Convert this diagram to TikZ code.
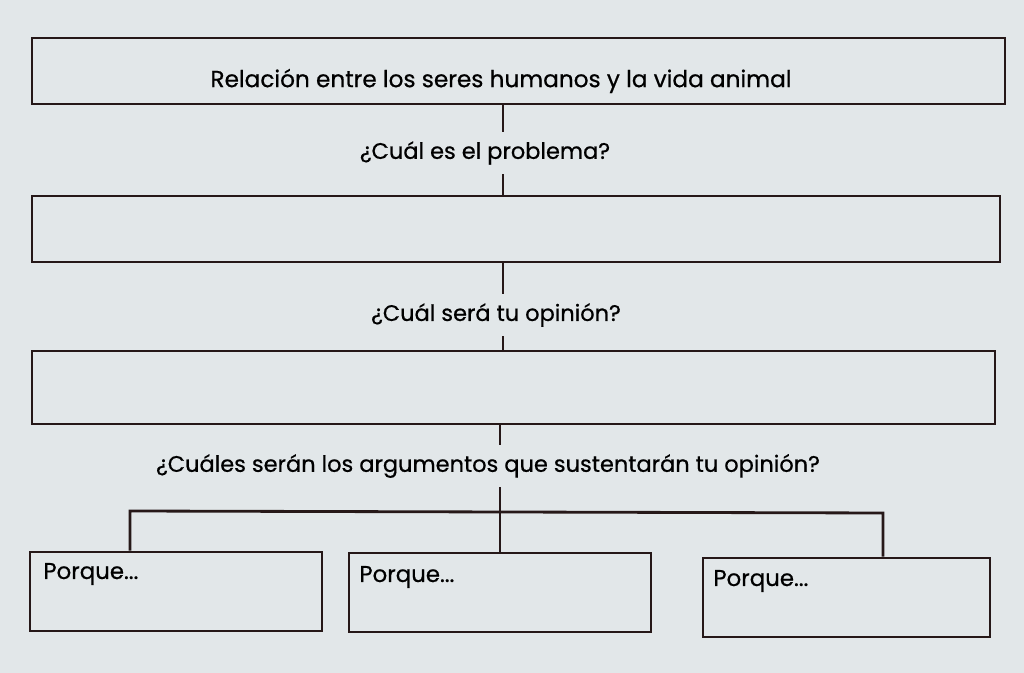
\documentclass[tikz,border=0pt]{standalone}
\usepackage{fontspec}
\setmainfont{Poppins}[FakeBold=0.6]
\usepackage{tikz}
\usetikzlibrary{positioning}

\definecolor{paper}{RGB}{226,231,233}
\definecolor{ink}{RGB}{38,24,24}

\begin{document}
\begin{tikzpicture}[
  font=\fontsize{12.8}{14}\selectfont, text=black,
  line width=1.6pt, draw=ink
]
  \tikzstyle{panel}=[draw=ink,line width=1.6pt,fill=paper,inner sep=0pt]
  \tikzstyle{question}=[minimum height=0.8cm,inner sep=0pt]
  \tikzstyle{reason}=[anchor=west,inner sep=0pt,font=\fontsize{13}{14}\selectfont]
  \tikzstyle{wire}=[draw=ink,line width=1.6pt]

  % page
  \fill[paper] (0,0) rectangle (20.48,-13.46);
  \useasboundingbox (0,0) rectangle (20.48,-13.46);

  % Boxes (top -> bottom)
  \node[panel, minimum width=19.46cm, minimum height=1.32cm] (A) at (10.37,-1.42)  {};
  \node[panel, minimum width=19.36cm, minimum height=1.32cm] (B) at (10.32,-4.58)  {};
  \node[panel, minimum width=19.26cm, minimum height=1.46cm] (C) at (10.27,-7.75)  {};

  % three answer boxes
  \node[panel, minimum width=5.84cm, minimum height=1.58cm] (D) at (3.52,-11.83)  {};
  \node[panel, minimum width=6.04cm, minimum height=1.58cm] (E) at (10.00,-11.85) {};
  \node[panel, minimum width=5.74cm, minimum height=1.58cm] (F) at (16.93,-11.95) {};

  % Texts
  \node[font=\fontsize{13.2}{15}\selectfont] (title) at (10.02,-1.62)
    {Relación entre los seres humanos y la vida animal};
  \node[question] (Q1) at (9.70,-3.06) {¿Cuál es el problema?};
  \node[question] (Q2) at (9.92,-6.30) {¿Cuál será tu opinión?};
  \node[question] (Q3) at (9.76,-9.32) {¿Cuáles serán los argumentos que sustentarán tu opinión?};

  \node[reason] (pD) at (0.84,-11.48)  {Porque...};
  \node[reason] (pE) at (7.16,-11.54)  {Porque...};
  \node[reason] (pF) at (14.24,-11.62) {Porque...};

  % Connectors
  \coordinate (spine) at (10.06,0);
  \coordinate (kl) at (2.60,-10.22);
  \coordinate (kr) at (17.66,-10.26);

  \path[wire] (A.south -| spine) edge (Q1.north -| spine);
  \path[wire] (Q1.south -| spine) edge (B.north -| spine);
  \path[wire] (B.south -| spine) edge (Q2.north -| spine);
  \path[wire] (Q2.south -| spine) edge (C.north -| spine);
  \path[wire] (C.south -| E.north) edge (Q3.north -| E.north);

  \draw[wire] (Q3.south -| E.north) -- (E.north);
  \draw[wire] (D.north -| kl) -- (kl) -- (kr) -- (F.north -| kr);
\end{tikzpicture}
\end{document}
